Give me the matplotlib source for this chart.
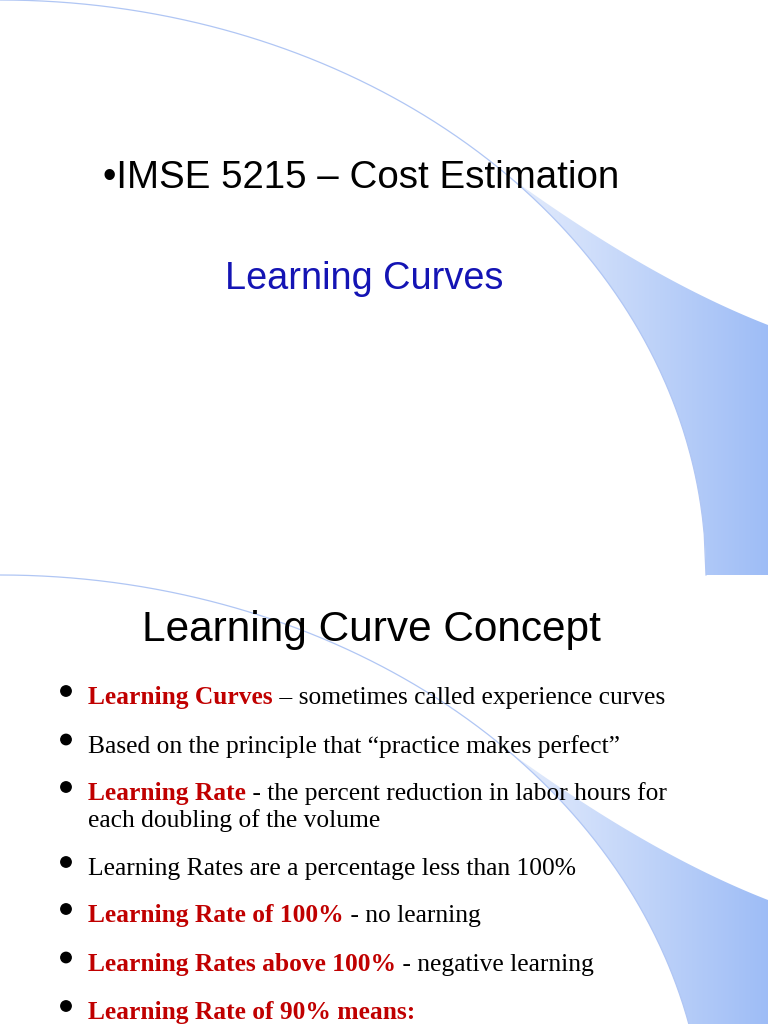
import numpy as np
import matplotlib
matplotlib.use("Agg")
import matplotlib.pyplot as plt
from matplotlib.path import Path
from matplotlib.patches import PathPatch, Circle

# ---- content ----
top_heading = "\u2022IMSE 5215 \u2013 Cost Estimation"
top_subtitle = "Learning Curves"
slide2_title = "Learning Curve Concept"
bullet_red = ["Learning Curves", None, "Learning Rate", None,
              "Learning Rate of 100%", "Learning Rates above 100%",
              "Learning Rate of 90% means:"]
bullet_rest = [" \u2013 sometimes called experience curves",
               "Based on the principle that \u201cpractice makes perfect\u201d",
               " - the percent reduction in labor hours for",
               "Learning Rates are a percentage less than 100%",
               " - no learning",
               " - negative learning",
               ""]
bullet_cont = [None, None, "each doubling of the volume", None, None, None, None]
bullet_baselines = [704, 752.5, 800, 875, 922, 970.5, 1019]

W, H = 768, 1024
SLIDE_H = 575
RED = "#c00000"
BLUE_TXT = "#1414b4"

fig = plt.figure(figsize=(W / 100, H / 100), dpi=100)
ax = fig.add_axes([0, 0, 1, 1])
ax.set_xlim(0, W)
ax.set_ylim(H, 0)
ax.axis("off")

A, B = 706.0, 575.0  # ellipse semi-axes, center (0, 575) relative to slide top


def arc_y(x):
    return B - B * np.sqrt(np.clip(1 - (x / A) ** 2, 0, 1))


def draw_swoosh(y0):
    xs = np.linspace(0, A, 400)
    ax.plot(xs, arc_y(xs) + y0, color="#b0c6f4", lw=0.9, zorder=2)
    tip_x = 510.0
    inner_x = np.linspace(tip_x, A, 200)
    inner = np.column_stack([inner_x, arc_y(inner_x)])
    P0 = np.array([tip_x, arc_y(tip_x)])
    P1 = np.array([650.0, 279.0])
    P2 = np.array([768.0, 325.0])
    t = np.linspace(0, 1, 120)[:, None]
    outer = (1 - t) ** 2 * P0 + 2 * t * (1 - t) * P1 + t ** 2 * P2
    poly = np.vstack([inner, [[A, B], [768.0, B]], outer[::-1]])
    poly[:, 1] += y0
    patch = PathPatch(Path(poly, closed=True), facecolor="none", edgecolor="none")
    ax.add_patch(patch)
    grad = np.linspace(0, 1, 256)[None, :]
    c0 = np.array([0.90, 0.93, 0.99])
    c1 = np.array([0.62, 0.74, 0.965])
    img = c0[None, None, :] * (1 - grad[..., None]) + c1[None, None, :] * grad[..., None]
    im = ax.imshow(img, extent=[tip_x, 768, y0 + B, y0 + 150], aspect="auto",
                   zorder=1, interpolation="bilinear")
    im.set_clip_path(patch)


draw_swoosh(0)
draw_swoosh(SLIDE_H)
ax.set_xlim(0, W)
ax.set_ylim(H, 0)

# ---- top slide text ----
ax.text(103, 188, top_heading, fontsize=27.7, family="Liberation Sans",
        color="black", va="baseline", ha="left", zorder=5)
ax.text(225, 289, top_subtitle, fontsize=27.3, family="Liberation Sans",
        color=BLUE_TXT, va="baseline", ha="left", zorder=5)

# ---- second slide ----
ax.text(371, 641, slide2_title, fontsize=30.5, family="Liberation Sans",
        color="black", va="baseline", ha="center", zorder=5)

fig.canvas.draw()
renderer = fig.canvas.get_renderer()

FS = 18.4
X0 = 88
for red, rest, cont, yb in zip(bullet_red, bullet_rest, bullet_cont, bullet_baselines):
    ax.add_patch(Circle((66, yb - 13), 5.2, color="black", zorder=5))
    x = X0
    if red:
        t1 = ax.text(x, yb, red, fontsize=FS, family="Liberation Serif",
                     weight="bold", color=RED, va="baseline", ha="left", zorder=5)
        bb = t1.get_window_extent(renderer)
        x = x + bb.width
    if rest:
        ax.text(x, yb, rest, fontsize=FS, family="Liberation Serif",
                color="black", va="baseline", ha="left", zorder=5)
    if cont:
        ax.text(X0, yb + 26.7, cont, fontsize=FS, family="Liberation Serif",
                color="black", va="baseline", ha="left", zorder=5)

fig.savefig("out.png", dpi=100)
